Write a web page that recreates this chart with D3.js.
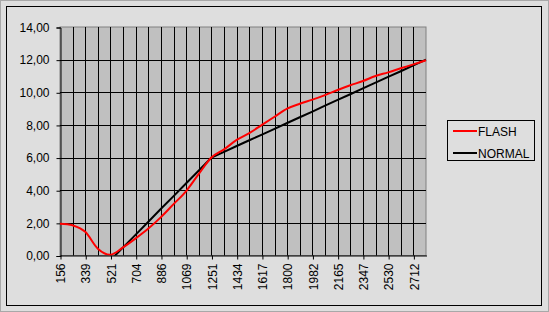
<!DOCTYPE html>
<html><head><meta charset="utf-8">
<script src="https://cdn.jsdelivr.net/npm/d3@7/dist/d3.min.js"></script>
<style>body{margin:0;background:#dedede}svg{display:block}text{font-family:"Liberation Sans",Arial,sans-serif;font-size:12px;fill:#000}</style>
</head><body><svg id="c" width="549" height="312"></svg>
<script>
const categories=["156","247","339","430","521","613","704","795","886","978","1069","1160","1251","1343","1434","1525","1617","1708","1800","1891","1982","2073","2165","2256","2347","2438","2530","2621","2712","2803"];
const flash=[1.95,1.85,1.45,0.42,0.05,0.5,1.05,1.65,2.35,3.15,3.95,5.0,6.0,6.5,7.08,7.5,8.0,8.5,9.0,9.3,9.55,9.83,10.14,10.43,10.69,11.0,11.22,11.47,11.71,11.96];
const normal=[null,null,null,null,-0.29,0.5,1.28,2.07,2.86,3.64,4.43,5.21,6.0,6.35,6.71,7.06,7.41,7.76,8.12,8.47,8.82,9.18,9.53,9.88,10.24,10.59,10.94,11.29,11.65,12.0];
const yTicks=[0,2,4,6,8,10,12,14];
const seriesNames=["FLASH","NORMAL"];
const seriesColors=["#ff0000","#000000"];

const svg=d3.select("#c");
const W=549,H=312;
svg.append("rect").attr("x",0.5).attr("y",0.5).attr("width",W-1).attr("height",H-1).attr("fill","#dedede").attr("stroke","#a8a8a8");
svg.append("rect").attr("x",6.5).attr("y",6.5).attr("width",535).attr("height",299).attr("fill","#dedede").attr("stroke","#000");

const L=60,R=426,T=27,B=255.5;
const x=d3.scalePoint().domain(categories).range([L,R]);
const y=d3.scaleLinear().domain([0,14]).range([B,T]);

svg.append("rect").attr("x",L).attr("y",T).attr("width",R-L).attr("height",B-T).attr("fill","#c0c0c0").attr("stroke","#808080");

const g=svg.append("g");
// vertical gridlines
g.selectAll("line.v").data(categories.slice(1,-1)).enter().append("line")
 .attr("x1",d=>Math.round(x(d))+0.5).attr("x2",d=>Math.round(x(d))+0.5).attr("y1",T).attr("y2",B).attr("stroke","#000");
// horizontal gridlines
g.selectAll("line.h").data(yTicks.filter(v=>v>0&&v<14)).enter().append("line")
 .attr("y1",d=>Math.round(y(d))+0.5).attr("y2",d=>Math.round(y(d))+0.5).attr("x1",L).attr("x2",R).attr("stroke","#000");

// axes
const yAxis=d3.axisLeft(y).tickValues(yTicks).tickSize(4).tickPadding(7).tickFormat(d=>d3.format(".2f")(d).replace(".",","));
const ya=svg.append("g").attr("transform",`translate(${L+0.5},0.5)`).call(yAxis);
ya.select(".domain").attr("stroke","#000");
ya.selectAll(".tick line").attr("stroke","#000");
ya.selectAll("text").attr("font-size",null).attr("font-family",null).attr("fill","#000");
ya.attr("font-size",null).attr("font-family",null);

const xLabels=categories.filter((c,i)=>i%2===0);
const xAxis=d3.axisBottom(x).tickValues(xLabels).tickSize(4).tickSizeOuter(0);
const xa=svg.append("g").attr("transform",`translate(0.5,${B})`).call(xAxis);
xa.select(".domain").attr("stroke","#000");
xa.selectAll(".tick line").attr("stroke","#000");
xa.attr("font-size",null).attr("font-family",null);
xa.selectAll("text").attr("fill","#000").attr("transform","rotate(-90)").attr("text-anchor","end").attr("x",-8).attr("y",0).attr("dy","0.35em");

// series
svg.append("clipPath").attr("id","clip").append("rect").attr("x",L).attr("y",T-2).attr("width",R-L+2).attr("height",B-T+2);
const lineSmooth=d3.line().defined(d=>d[1]!=null).x(d=>x(d[0])).y(d=>y(d[1])).curve(d3.curveCardinal.tension(0));
const lineStraight=d3.line().defined(d=>d[1]!=null).x(d=>x(d[0])).y(d=>y(d[1]));
const ps=svg.append("g").attr("clip-path","url(#clip)");
ps.append("path").datum(categories.map((c,i)=>[c,normal[i]])).attr("d",lineStraight).attr("fill","none").attr("stroke",seriesColors[1]).attr("stroke-width",2);
ps.append("path").datum(categories.map((c,i)=>[c,flash[i]])).attr("d",lineSmooth).attr("fill","none").attr("stroke",seriesColors[0]).attr("stroke-width",2);

// legend
const lg=svg.append("g");
lg.append("rect").attr("x",447.5).attr("y",120.5).attr("width",87).attr("height",40).attr("fill","#dedede").attr("stroke","#000");
seriesNames.forEach((n,i)=>{
  const yy=131+i*22;
  lg.append("line").attr("x1",453).attr("x2",477).attr("y1",yy).attr("y2",yy).attr("stroke",seriesColors[i]).attr("stroke-width",2);
  lg.append("text").attr("x",478).attr("y",yy+4.5).text(n);
});
</script></body></html>
